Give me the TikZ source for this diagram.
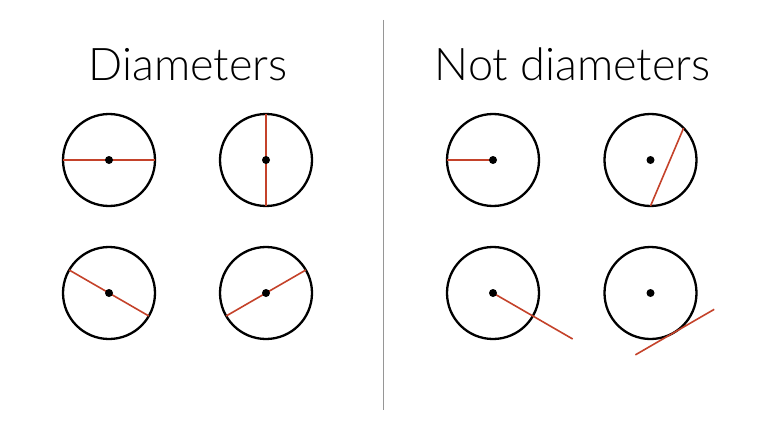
\documentclass[tikz,border=0pt]{standalone}
\usepackage{fontspec}
\setmainfont{Lato Light}
\usetikzlibrary{calc}
\definecolor{chordred}{RGB}{196,66,42}
\definecolor{divgrey}{RGB}{150,150,150}
\begin{document}
\begin{tikzpicture}[x=1pt,y=1pt,
  ring/.style={circle,draw=black,line width=2.3pt,minimum size=92pt,inner sep=0pt,outer sep=0pt},
  ctr/.style={circle,fill=black,minimum size=8pt,inner sep=0pt},
  seg/.style={draw=chordred,line width=1.6pt},
  title/.style={anchor=base,font=\fontsize{45}{48}\selectfont}]
\useasboundingbox (0,0) rectangle (768,432);
% titles
\node[title] (t1) at (188,351) {Diameters};
\node[title] (t2) at (572.5,351) {Not diameters};
% divider
\coordinate (dtop) at (383.5,412);
\coordinate (dbot) at (383.5,22);
\draw[divgrey,line width=1pt] (dtop) -- (dbot);
% circles
\node[ring] (c1) at (109,272) {};
\node[ring] (c2) at (266,272) {};
\node[ring] (c3) at (109,139) {};
\node[ring] (c4) at (266,139) {};
\node[ring] (c5) at (493,272) {};
\node[ring] (c6) at (650.5,272) {};
\node[ring] (c7) at (493,139) {};
\node[ring] (c8) at (650.5,139) {};
% segments
\draw[seg] (c1.180) -- (c1.0);
\draw[seg] (c2.90) -- (c2.270);
\draw[seg] (c3.150) -- (c3.-30);
\draw[seg] (c4.210) -- (c4.30);
\draw[seg] (c5.180) -- (c5.center);
\draw[seg] (c6.44) -- (c6.270);
\coordinate (e7) at ($(c7.center)!2!(c7.-30)$);
\draw[seg] (c7.center) -- (e7);
\coordinate (t8) at (c8.-60);
\coordinate (a8) at ($(t8)+(30:47)$);
\coordinate (b8) at ($(t8)+(210:44)$);
\draw[seg] (b8) -- (a8);
% centre dots
\foreach \c in {c1,c2,c3,c4,c5,c6,c7,c8}
  \node[ctr] (\c d) at (\c.center) {};
\end{tikzpicture}
\end{document}
